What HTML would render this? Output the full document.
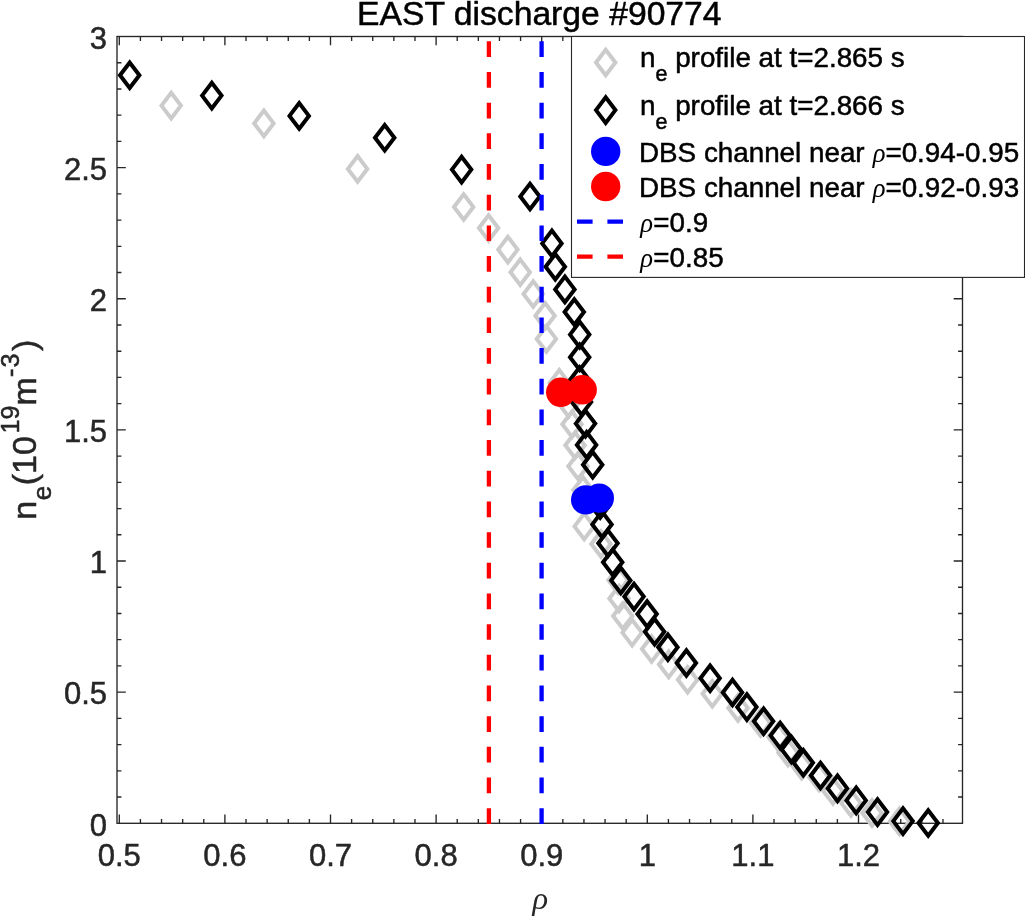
<!DOCTYPE html>
<html lang="en"><head><meta charset="utf-8"><title>EAST discharge #90774</title>
<style>html,body{margin:0;padding:0;background:#fff}body{width:1025px;height:916px;overflow:hidden}svg{display:block}text{font-family:"Liberation Sans",sans-serif;stroke-width:0.5px;paint-order:stroke fill}</style></head><body>
<svg width="1025" height="916" viewBox="0 0 1025 916">
<rect x="0" y="0" width="1025" height="916" fill="#fff"/>
<g stroke="#262626" stroke-width="1.35" fill="none">
<rect x="117.0" y="36.5" width="845.5" height="786.8"/>
<path d="M119.30 823.3v-8.8M119.30 36.5v8.8M140.42 823.3v-4.4M140.42 36.5v4.4M161.54 823.3v-4.4M161.54 36.5v4.4M182.66 823.3v-4.4M182.66 36.5v4.4M203.78 823.3v-4.4M203.78 36.5v4.4M224.90 823.3v-8.8M224.90 36.5v8.8M246.02 823.3v-4.4M246.02 36.5v4.4M267.14 823.3v-4.4M267.14 36.5v4.4M288.26 823.3v-4.4M288.26 36.5v4.4M309.38 823.3v-4.4M309.38 36.5v4.4M330.50 823.3v-8.8M330.50 36.5v8.8M351.62 823.3v-4.4M351.62 36.5v4.4M372.74 823.3v-4.4M372.74 36.5v4.4M393.86 823.3v-4.4M393.86 36.5v4.4M414.98 823.3v-4.4M414.98 36.5v4.4M436.10 823.3v-8.8M436.10 36.5v8.8M457.22 823.3v-4.4M457.22 36.5v4.4M478.34 823.3v-4.4M478.34 36.5v4.4M499.46 823.3v-4.4M499.46 36.5v4.4M520.58 823.3v-4.4M520.58 36.5v4.4M541.70 823.3v-8.8M541.70 36.5v8.8M562.82 823.3v-4.4M562.82 36.5v4.4M583.94 823.3v-4.4M583.94 36.5v4.4M605.06 823.3v-4.4M605.06 36.5v4.4M626.18 823.3v-4.4M626.18 36.5v4.4M647.30 823.3v-8.8M647.30 36.5v8.8M668.42 823.3v-4.4M668.42 36.5v4.4M689.54 823.3v-4.4M689.54 36.5v4.4M710.66 823.3v-4.4M710.66 36.5v4.4M731.78 823.3v-4.4M731.78 36.5v4.4M752.90 823.3v-8.8M752.90 36.5v8.8M774.02 823.3v-4.4M774.02 36.5v4.4M795.14 823.3v-4.4M795.14 36.5v4.4M816.26 823.3v-4.4M816.26 36.5v4.4M837.38 823.3v-4.4M837.38 36.5v4.4M858.50 823.3v-8.8M858.50 36.5v8.8M879.62 823.3v-4.4M879.62 36.5v4.4M900.74 823.3v-4.4M900.74 36.5v4.4M921.86 823.3v-4.4M921.86 36.5v4.4M942.98 823.3v-4.4M942.98 36.5v4.4M117.0 797.02h4.4M962.5 797.02h-4.4M117.0 770.80h4.4M962.5 770.80h-4.4M117.0 744.58h4.4M962.5 744.58h-4.4M117.0 718.35h4.4M962.5 718.35h-4.4M117.0 692.12h8.8M962.5 692.12h-8.8M117.0 665.90h4.4M962.5 665.90h-4.4M117.0 639.67h4.4M962.5 639.67h-4.4M117.0 613.45h4.4M962.5 613.45h-4.4M117.0 587.23h4.4M962.5 587.23h-4.4M117.0 561.00h8.8M962.5 561.00h-8.8M117.0 534.77h4.4M962.5 534.77h-4.4M117.0 508.55h4.4M962.5 508.55h-4.4M117.0 482.32h4.4M962.5 482.32h-4.4M117.0 456.10h4.4M962.5 456.10h-4.4M117.0 429.88h8.8M962.5 429.88h-8.8M117.0 403.65h4.4M962.5 403.65h-4.4M117.0 377.42h4.4M962.5 377.42h-4.4M117.0 351.20h4.4M962.5 351.20h-4.4M117.0 324.97h4.4M962.5 324.97h-4.4M117.0 298.75h8.8M962.5 298.75h-8.8M117.0 272.52h4.4M962.5 272.52h-4.4M117.0 246.30h4.4M962.5 246.30h-4.4M117.0 220.07h4.4M962.5 220.07h-4.4M117.0 193.85h4.4M962.5 193.85h-4.4M117.0 167.62h8.8M962.5 167.62h-8.8M117.0 141.40h4.4M962.5 141.40h-4.4M117.0 115.17h4.4M962.5 115.17h-4.4M117.0 88.95h4.4M962.5 88.95h-4.4M117.0 62.72h4.4M962.5 62.72h-4.4"/>
</g>
<g id="gray"><path d="M161.50 105.60L171.20 92.85L180.90 105.60L171.20 118.35Z" fill="none" stroke="#cbcbcb" stroke-width="4.0" stroke-linejoin="miter" stroke-miterlimit="10"/><path d="M254.20 123.40L263.90 110.65L273.60 123.40L263.90 136.15Z" fill="none" stroke="#cbcbcb" stroke-width="4.0" stroke-linejoin="miter" stroke-miterlimit="10"/><path d="M347.90 168.90L357.60 156.15L367.30 168.90L357.60 181.65Z" fill="none" stroke="#cbcbcb" stroke-width="4.0" stroke-linejoin="miter" stroke-miterlimit="10"/><path d="M454.00 207.00L463.70 194.25L473.40 207.00L463.70 219.75Z" fill="none" stroke="#cbcbcb" stroke-width="4.0" stroke-linejoin="miter" stroke-miterlimit="10"/><path d="M478.90 228.00L488.60 215.25L498.30 228.00L488.60 240.75Z" fill="none" stroke="#cbcbcb" stroke-width="4.0" stroke-linejoin="miter" stroke-miterlimit="10"/><path d="M498.20 249.60L507.90 236.85L517.60 249.60L507.90 262.35Z" fill="none" stroke="#cbcbcb" stroke-width="4.0" stroke-linejoin="miter" stroke-miterlimit="10"/><path d="M510.50 272.30L520.20 259.55L529.90 272.30L520.20 285.05Z" fill="none" stroke="#cbcbcb" stroke-width="4.0" stroke-linejoin="miter" stroke-miterlimit="10"/><path d="M523.50 294.00L533.20 281.25L542.90 294.00L533.20 306.75Z" fill="none" stroke="#cbcbcb" stroke-width="4.0" stroke-linejoin="miter" stroke-miterlimit="10"/><path d="M535.35 315.70L545.05 302.95L554.75 315.70L545.05 328.45Z" fill="none" stroke="#cbcbcb" stroke-width="4.0" stroke-linejoin="miter" stroke-miterlimit="10"/><path d="M536.70 338.90L546.40 326.15L556.10 338.90L546.40 351.65Z" fill="none" stroke="#cbcbcb" stroke-width="4.0" stroke-linejoin="miter" stroke-miterlimit="10"/><path d="M549.60 382.90L559.30 370.15L569.00 382.90L559.30 395.65Z" fill="none" stroke="#cbcbcb" stroke-width="4.0" stroke-linejoin="miter" stroke-miterlimit="10"/><path d="M558.90 404.00L568.60 391.25L578.30 404.00L568.60 416.75Z" fill="none" stroke="#cbcbcb" stroke-width="4.0" stroke-linejoin="miter" stroke-miterlimit="10"/><path d="M562.30 424.20L572.00 411.45L581.70 424.20L572.00 436.95Z" fill="none" stroke="#cbcbcb" stroke-width="4.0" stroke-linejoin="miter" stroke-miterlimit="10"/><path d="M565.30 445.30L575.00 432.55L584.70 445.30L575.00 458.05Z" fill="none" stroke="#cbcbcb" stroke-width="4.0" stroke-linejoin="miter" stroke-miterlimit="10"/><path d="M568.30 466.30L578.00 453.55L587.70 466.30L578.00 479.05Z" fill="none" stroke="#cbcbcb" stroke-width="4.0" stroke-linejoin="miter" stroke-miterlimit="10"/><path d="M573.30 490.00L583.00 477.25L592.70 490.00L583.00 502.75Z" fill="none" stroke="#cbcbcb" stroke-width="4.0" stroke-linejoin="miter" stroke-miterlimit="10"/><path d="M574.50 526.40L584.20 513.65L593.90 526.40L584.20 539.15Z" fill="none" stroke="#cbcbcb" stroke-width="4.0" stroke-linejoin="miter" stroke-miterlimit="10"/><path d="M591.30 544.00L601.00 531.25L610.70 544.00L601.00 556.75Z" fill="none" stroke="#cbcbcb" stroke-width="4.0" stroke-linejoin="miter" stroke-miterlimit="10"/><path d="M608.30 580.10L618.00 567.35L627.70 580.10L618.00 592.85Z" fill="none" stroke="#cbcbcb" stroke-width="4.0" stroke-linejoin="miter" stroke-miterlimit="10"/><path d="M609.30 598.50L619.00 585.75L628.70 598.50L619.00 611.25Z" fill="none" stroke="#cbcbcb" stroke-width="4.0" stroke-linejoin="miter" stroke-miterlimit="10"/><path d="M613.10 616.00L622.80 603.25L632.50 616.00L622.80 628.75Z" fill="none" stroke="#cbcbcb" stroke-width="4.0" stroke-linejoin="miter" stroke-miterlimit="10"/><path d="M622.40 632.60L632.10 619.85L641.80 632.60L632.10 645.35Z" fill="none" stroke="#cbcbcb" stroke-width="4.0" stroke-linejoin="miter" stroke-miterlimit="10"/><path d="M641.90 649.00L651.60 636.25L661.30 649.00L651.60 661.75Z" fill="none" stroke="#cbcbcb" stroke-width="4.0" stroke-linejoin="miter" stroke-miterlimit="10"/><path d="M659.00 664.40L668.70 651.65L678.40 664.40L668.70 677.15Z" fill="none" stroke="#cbcbcb" stroke-width="4.0" stroke-linejoin="miter" stroke-miterlimit="10"/><path d="M677.90 679.80L687.60 667.05L697.30 679.80L687.60 692.55Z" fill="none" stroke="#cbcbcb" stroke-width="4.0" stroke-linejoin="miter" stroke-miterlimit="10"/><path d="M702.60 693.80L712.30 681.05L722.00 693.80L712.30 706.55Z" fill="none" stroke="#cbcbcb" stroke-width="4.0" stroke-linejoin="miter" stroke-miterlimit="10"/><path d="M728.30 707.90L738.00 695.15L747.70 707.90L738.00 720.65Z" fill="none" stroke="#cbcbcb" stroke-width="4.0" stroke-linejoin="miter" stroke-miterlimit="10"/><path d="M750.80 723.00L760.50 710.25L770.20 723.00L760.50 735.75Z" fill="none" stroke="#cbcbcb" stroke-width="4.0" stroke-linejoin="miter" stroke-miterlimit="10"/><path d="M768.30 737.00L778.00 724.25L787.70 737.00L778.00 749.75Z" fill="none" stroke="#cbcbcb" stroke-width="4.0" stroke-linejoin="miter" stroke-miterlimit="10"/><path d="M778.30 752.50L788.00 739.75L797.70 752.50L788.00 765.25Z" fill="none" stroke="#cbcbcb" stroke-width="4.0" stroke-linejoin="miter" stroke-miterlimit="10"/><path d="M792.00 765.80L801.70 753.05L811.40 765.80L801.70 778.55Z" fill="none" stroke="#cbcbcb" stroke-width="4.0" stroke-linejoin="miter" stroke-miterlimit="10"/><path d="M809.30 777.50L819.00 764.75L828.70 777.50L819.00 790.25Z" fill="none" stroke="#cbcbcb" stroke-width="4.0" stroke-linejoin="miter" stroke-miterlimit="10"/><path d="M823.30 791.00L833.00 778.25L842.70 791.00L833.00 803.75Z" fill="none" stroke="#cbcbcb" stroke-width="4.0" stroke-linejoin="miter" stroke-miterlimit="10"/><path d="M841.30 803.00L851.00 790.25L860.70 803.00L851.00 815.75Z" fill="none" stroke="#cbcbcb" stroke-width="4.0" stroke-linejoin="miter" stroke-miterlimit="10"/><path d="M862.30 813.00L872.00 800.25L881.70 813.00L872.00 825.75Z" fill="none" stroke="#cbcbcb" stroke-width="4.0" stroke-linejoin="miter" stroke-miterlimit="10"/><path d="M889.80 821.40L899.50 808.65L909.20 821.40L899.50 834.15Z" fill="none" stroke="#cbcbcb" stroke-width="4.0" stroke-linejoin="miter" stroke-miterlimit="10"/></g>
<g id="black"><path d="M120.00 75.30L129.70 62.55L139.40 75.30L129.70 88.05Z" fill="none" stroke="#000" stroke-width="4.0" stroke-linejoin="miter" stroke-miterlimit="10"/><path d="M202.10 95.60L211.80 82.85L221.50 95.60L211.80 108.35Z" fill="none" stroke="#000" stroke-width="4.0" stroke-linejoin="miter" stroke-miterlimit="10"/><path d="M289.50 115.90L299.20 103.15L308.90 115.90L299.20 128.65Z" fill="none" stroke="#000" stroke-width="4.0" stroke-linejoin="miter" stroke-miterlimit="10"/><path d="M375.00 137.70L384.70 124.95L394.40 137.70L384.70 150.45Z" fill="none" stroke="#000" stroke-width="4.0" stroke-linejoin="miter" stroke-miterlimit="10"/><path d="M451.90 169.60L461.60 156.85L471.30 169.60L461.60 182.35Z" fill="none" stroke="#000" stroke-width="4.0" stroke-linejoin="miter" stroke-miterlimit="10"/><path d="M520.30 196.50L530.00 183.75L539.70 196.50L530.00 209.25Z" fill="none" stroke="#000" stroke-width="4.0" stroke-linejoin="miter" stroke-miterlimit="10"/><path d="M542.20 243.40L551.90 230.65L561.60 243.40L551.90 256.15Z" fill="none" stroke="#000" stroke-width="4.0" stroke-linejoin="miter" stroke-miterlimit="10"/><path d="M545.60 266.80L555.30 254.05L565.00 266.80L555.30 279.55Z" fill="none" stroke="#000" stroke-width="4.0" stroke-linejoin="miter" stroke-miterlimit="10"/><path d="M555.20 289.40L564.90 276.65L574.60 289.40L564.90 302.15Z" fill="none" stroke="#000" stroke-width="4.0" stroke-linejoin="miter" stroke-miterlimit="10"/><path d="M564.60 312.00L574.30 299.25L584.00 312.00L574.30 324.75Z" fill="none" stroke="#000" stroke-width="4.0" stroke-linejoin="miter" stroke-miterlimit="10"/><path d="M570.00 334.60L579.70 321.85L589.40 334.60L579.70 347.35Z" fill="none" stroke="#000" stroke-width="4.0" stroke-linejoin="miter" stroke-miterlimit="10"/><path d="M570.00 357.30L579.70 344.55L589.40 357.30L579.70 370.05Z" fill="none" stroke="#000" stroke-width="4.0" stroke-linejoin="miter" stroke-miterlimit="10"/><path d="M569.90 380.00L579.60 367.25L589.30 380.00L579.60 392.75Z" fill="none" stroke="#000" stroke-width="4.0" stroke-linejoin="miter" stroke-miterlimit="10"/><path d="M571.80 402.00L581.50 389.25L591.20 402.00L581.50 414.75Z" fill="none" stroke="#000" stroke-width="4.0" stroke-linejoin="miter" stroke-miterlimit="10"/><path d="M575.80 423.60L585.50 410.85L595.20 423.60L585.50 436.35Z" fill="none" stroke="#000" stroke-width="4.0" stroke-linejoin="miter" stroke-miterlimit="10"/><path d="M576.90 444.90L586.60 432.15L596.30 444.90L586.60 457.65Z" fill="none" stroke="#000" stroke-width="4.0" stroke-linejoin="miter" stroke-miterlimit="10"/><path d="M583.00 464.70L592.70 451.95L602.40 464.70L592.70 477.45Z" fill="none" stroke="#000" stroke-width="4.0" stroke-linejoin="miter" stroke-miterlimit="10"/><path d="M590.50 505.00L600.20 492.25L609.90 505.00L600.20 517.75Z" fill="none" stroke="#000" stroke-width="4.0" stroke-linejoin="miter" stroke-miterlimit="10"/><path d="M592.30 524.40L602.00 511.65L611.70 524.40L602.00 537.15Z" fill="none" stroke="#000" stroke-width="4.0" stroke-linejoin="miter" stroke-miterlimit="10"/><path d="M598.30 543.30L608.00 530.55L617.70 543.30L608.00 556.05Z" fill="none" stroke="#000" stroke-width="4.0" stroke-linejoin="miter" stroke-miterlimit="10"/><path d="M603.00 562.30L612.70 549.55L622.40 562.30L612.70 575.05Z" fill="none" stroke="#000" stroke-width="4.0" stroke-linejoin="miter" stroke-miterlimit="10"/><path d="M611.10 580.50L620.80 567.75L630.50 580.50L620.80 593.25Z" fill="none" stroke="#000" stroke-width="4.0" stroke-linejoin="miter" stroke-miterlimit="10"/><path d="M624.30 596.60L634.00 583.85L643.70 596.60L634.00 609.35Z" fill="none" stroke="#000" stroke-width="4.0" stroke-linejoin="miter" stroke-miterlimit="10"/><path d="M637.40 614.00L647.10 601.25L656.80 614.00L647.10 626.75Z" fill="none" stroke="#000" stroke-width="4.0" stroke-linejoin="miter" stroke-miterlimit="10"/><path d="M644.90 631.80L654.60 619.05L664.30 631.80L654.60 644.55Z" fill="none" stroke="#000" stroke-width="4.0" stroke-linejoin="miter" stroke-miterlimit="10"/><path d="M658.20 647.20L667.90 634.45L677.60 647.20L667.90 659.95Z" fill="none" stroke="#000" stroke-width="4.0" stroke-linejoin="miter" stroke-miterlimit="10"/><path d="M676.70 663.00L686.40 650.25L696.10 663.00L686.40 675.75Z" fill="none" stroke="#000" stroke-width="4.0" stroke-linejoin="miter" stroke-miterlimit="10"/><path d="M700.40 678.20L710.10 665.45L719.80 678.20L710.10 690.95Z" fill="none" stroke="#000" stroke-width="4.0" stroke-linejoin="miter" stroke-miterlimit="10"/><path d="M722.80 692.50L732.50 679.75L742.20 692.50L732.50 705.25Z" fill="none" stroke="#000" stroke-width="4.0" stroke-linejoin="miter" stroke-miterlimit="10"/><path d="M737.20 707.10L746.90 694.35L756.60 707.10L746.90 719.85Z" fill="none" stroke="#000" stroke-width="4.0" stroke-linejoin="miter" stroke-miterlimit="10"/><path d="M753.90 721.20L763.60 708.45L773.30 721.20L763.60 733.95Z" fill="none" stroke="#000" stroke-width="4.0" stroke-linejoin="miter" stroke-miterlimit="10"/><path d="M770.50 735.50L780.20 722.75L789.90 735.50L780.20 748.25Z" fill="none" stroke="#000" stroke-width="4.0" stroke-linejoin="miter" stroke-miterlimit="10"/><path d="M781.70 749.50L791.40 736.75L801.10 749.50L791.40 762.25Z" fill="none" stroke="#000" stroke-width="4.0" stroke-linejoin="miter" stroke-miterlimit="10"/><path d="M793.60 762.70L803.30 749.95L813.00 762.70L803.30 775.45Z" fill="none" stroke="#000" stroke-width="4.0" stroke-linejoin="miter" stroke-miterlimit="10"/><path d="M810.80 775.50L820.50 762.75L830.20 775.50L820.50 788.25Z" fill="none" stroke="#000" stroke-width="4.0" stroke-linejoin="miter" stroke-miterlimit="10"/><path d="M827.80 788.40L837.50 775.65L847.20 788.40L837.50 801.15Z" fill="none" stroke="#000" stroke-width="4.0" stroke-linejoin="miter" stroke-miterlimit="10"/><path d="M846.50 800.40L856.20 787.65L865.90 800.40L856.20 813.15Z" fill="none" stroke="#000" stroke-width="4.0" stroke-linejoin="miter" stroke-miterlimit="10"/><path d="M867.80 812.10L877.50 799.35L887.20 812.10L877.50 824.85Z" fill="none" stroke="#000" stroke-width="4.0" stroke-linejoin="miter" stroke-miterlimit="10"/><path d="M893.30 821.10L903.00 808.35L912.70 821.10L903.00 833.85Z" fill="none" stroke="#000" stroke-width="4.0" stroke-linejoin="miter" stroke-miterlimit="10"/><path d="M918.50 823.00L928.20 810.25L937.90 823.00L928.20 835.75Z" fill="none" stroke="#000" stroke-width="4.0" stroke-linejoin="miter" stroke-miterlimit="10"/></g>
<g fill="#0000ff"><circle cx="585.7" cy="499.9" r="14.7"/><circle cx="599.3" cy="498.1" r="14.7"/></g>
<g fill="#ff0000"><circle cx="560.7" cy="392.3" r="14.7"/><circle cx="582.2" cy="389.8" r="14.7"/></g>
<line x1="541.6" y1="823.9" x2="541.6" y2="36.5" stroke="#0000ff" stroke-width="4.3" stroke-dasharray="15.7 14.975000000000001"/>
<line x1="488.9" y1="823.9" x2="488.9" y2="36.5" stroke="#ff0000" stroke-width="4.3" stroke-dasharray="15.7 14.975000000000001"/>
<g fill="#262626" stroke="#262626" font-size="31" text-anchor="middle">
<text x="119.3" y="866">0.5</text>
<text x="224.9" y="866">0.6</text>
<text x="330.5" y="866">0.7</text>
<text x="436.1" y="866">0.8</text>
<text x="541.7" y="866">0.9</text>
<text x="647.3" y="866">1</text>
<text x="752.9" y="866">1.1</text>
<text x="858.5" y="866">1.2</text>
</g>
<g fill="#262626" stroke="#262626" font-size="31" text-anchor="end">
<text x="107" y="835.5">0</text>
<text x="107" y="704.4">0.5</text>
<text x="107" y="573.3">1</text>
<text x="107" y="442.2">1.5</text>
<text x="107" y="311.1">2</text>
<text x="107" y="179.9">2.5</text>
<text x="107" y="48.8">3</text>
</g>
<text x="539.3" y="24.6" font-size="33.7" text-anchor="middle" fill="#000" stroke="#000">EAST discharge #90774</text>
<text x="540.2" y="909" font-size="32.5" text-anchor="middle" fill="#262626" font-style="italic" font-family="Liberation Serif, serif" style="font-family:'Liberation Serif',serif">ρ</text>
<text transform="translate(36,519.8) rotate(-90)" font-size="34" fill="#262626" stroke="#262626">n<tspan font-size="26" dy="15.3" dx="0.6">e</tspan><tspan dy="-15.3" dx="0.6">(10</tspan><tspan font-size="25.2" dy="-16.6" dx="2.6">19</tspan><tspan dy="16.6">m</tspan><tspan font-size="25.2" dy="-16.6">-</tspan><tspan font-size="25.2" dx="1.3">3</tspan><tspan dy="16.6" dx="2.4">)</tspan></text>
<rect x="571.5" y="36.5" width="453.0" height="240.89999999999998" fill="#fff" stroke="#262626" stroke-width="1.1"/>
<path d="M596.00 62.50L605.70 49.75L615.40 62.50L605.70 75.25Z" fill="none" stroke="#cbcbcb" stroke-width="4.0" stroke-linejoin="miter" stroke-miterlimit="10"/>
<path d="M596.00 110.10L605.70 97.35L615.40 110.10L605.70 122.85Z" fill="none" stroke="#000" stroke-width="4.0" stroke-linejoin="miter" stroke-miterlimit="10"/>
<circle cx="605.7" cy="151.4" r="14.7" fill="#0000ff"/>
<circle cx="605.7" cy="186.5" r="14.7" fill="#ff0000"/>
<line x1="577" y1="221.7" x2="637" y2="221.7" stroke="#0000ff" stroke-width="4.3" stroke-dasharray="15.6 14.8"/>
<line x1="577" y1="256.6" x2="637" y2="256.6" stroke="#ff0000" stroke-width="4.3" stroke-dasharray="15.6 14.8"/>
<g fill="#000" stroke="#000" font-size="27.8">
<text x="640" y="66.9">n<tspan font-size="21.5" dy="14">e</tspan><tspan dy="-14"> profile at t=2.865 s</tspan></text>
<text x="640" y="114.5">n<tspan font-size="21.5" dy="14">e</tspan><tspan dy="-14"> profile at t=2.866 s</tspan></text>
<text x="639" y="161.5">DBS channel near <tspan font-style="italic" stroke="none" dx="0.3" font-size="26.6" style="font-family:'Liberation Serif',serif">ρ</tspan><tspan dx="0">=0.94-0.95</tspan></text>
<text x="639" y="196.8">DBS channel near <tspan font-style="italic" stroke="none" dx="0.3" font-size="26.6" style="font-family:'Liberation Serif',serif">ρ</tspan><tspan dx="0">=0.92-0.93</tspan></text>
<text x="640" y="231.9"><tspan font-style="italic" stroke="none" dx="0.3" font-size="26.6" style="font-family:'Liberation Serif',serif">ρ</tspan><tspan dx="0.3">=0.9</tspan></text>
<text x="640" y="267"><tspan font-style="italic" stroke="none" dx="0.3" font-size="26.6" style="font-family:'Liberation Serif',serif">ρ</tspan><tspan dx="0.3">=0.85</tspan></text>
</g>
</svg></body></html>
